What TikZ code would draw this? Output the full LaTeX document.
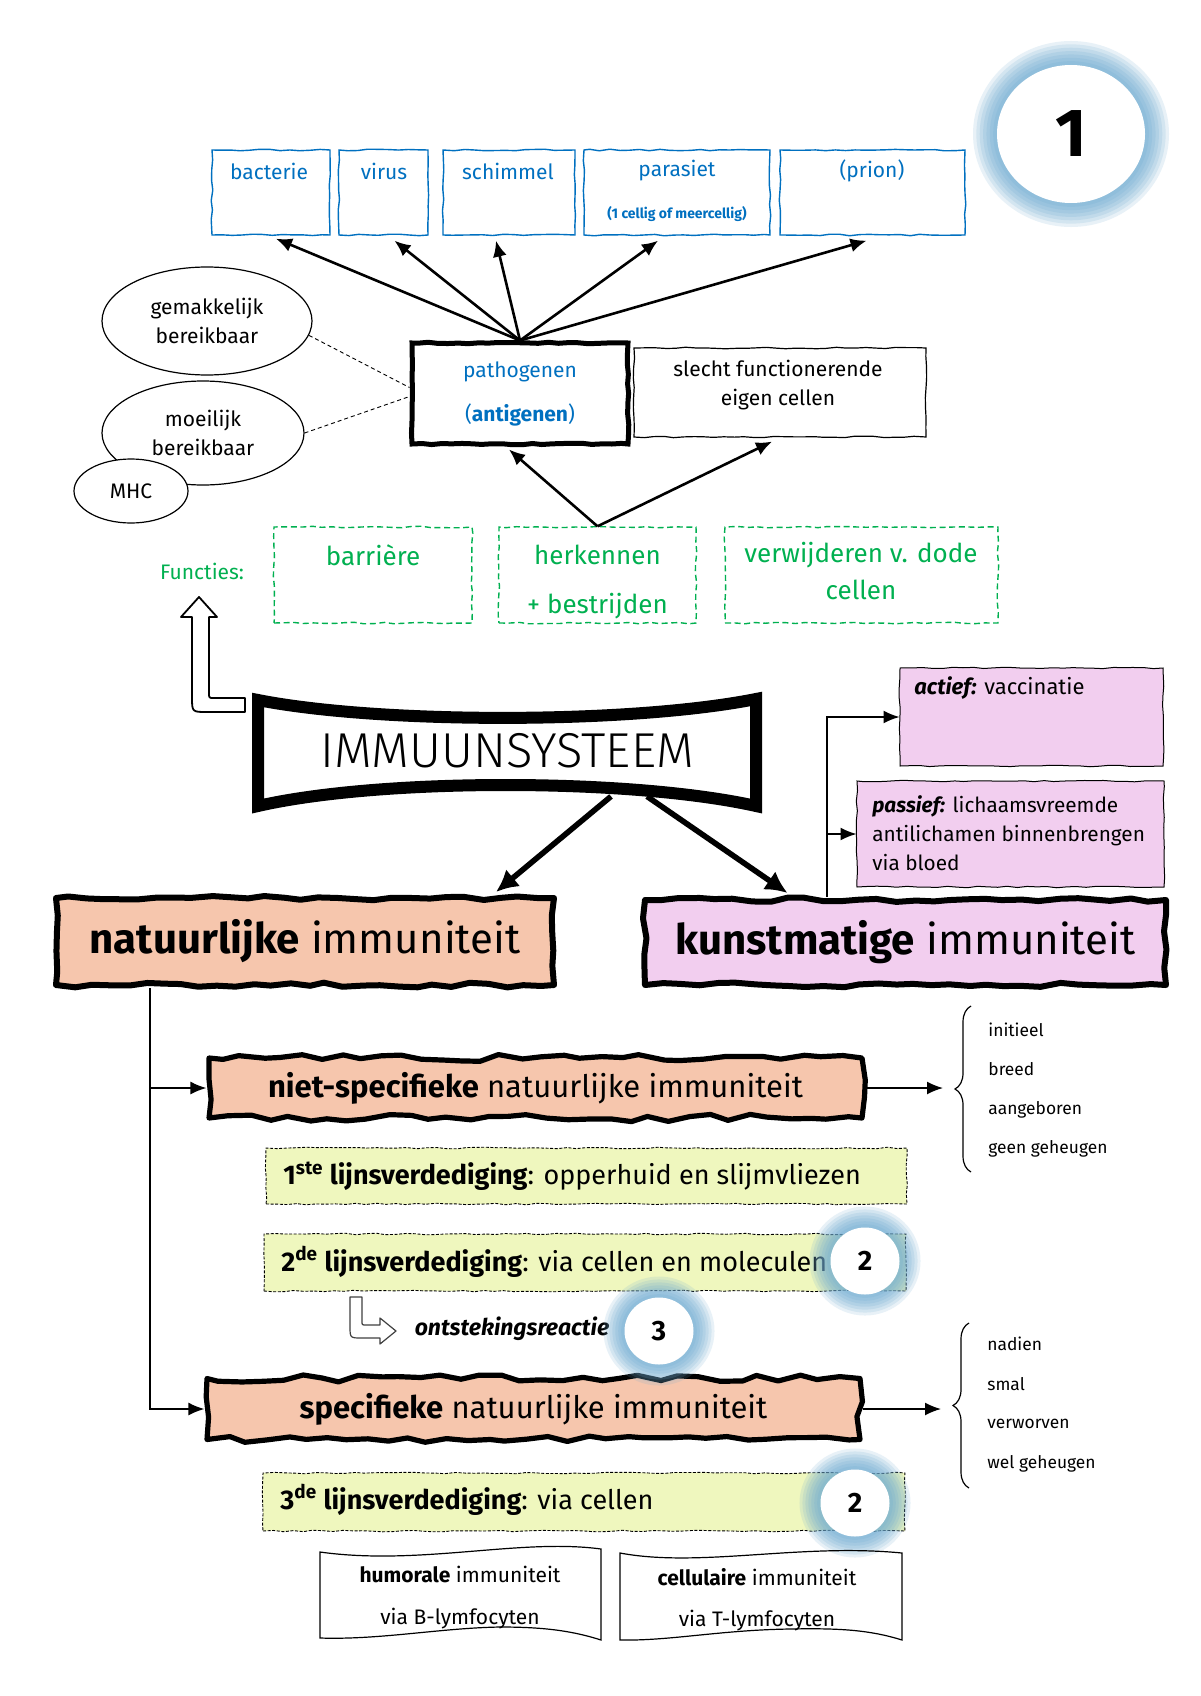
\documentclass[tikz,border=0pt]{standalone}
\usepackage{fontspec}
\setmainfont{Fira Sans}
\newfontfamily\firalight{Fira Sans Light}
\usetikzlibrary{arrows.meta,calc,decorations.pathmorphing,decorations.pathreplacing,shapes.geometric}
\newcommand{\fsz}[2]{\fontsize{#1}{#2}\selectfont}
\definecolor{pblue}{RGB}{0,112,192}
\definecolor{fgreen}{RGB}{0,176,80}
\definecolor{salmon}{RGB}{246,198,173}
\definecolor{pinkfill}{RGB}{242,206,239}
\definecolor{limefill}{RGB}{239,247,190}
\definecolor{glow}{RGB}{112,172,210}
\begin{document}
\pgfmathsetseed{7}
\begin{tikzpicture}[x=0.5pt,y=-0.5pt,
 wob/.style={decorate,decoration={random steps,segment length=5pt,amplitude=0.4pt}},
 wavy/.style={decorate,decoration={random steps,segment length=9pt,amplitude=1.2pt},line join=round},
 wavier/.style={decorate,decoration={random steps,segment length=10pt,amplitude=1.8pt},line join=round},
 bluebox/.style={draw=pblue,line width=0.7pt,wob,inner sep=0pt,minimum height=42.5pt},
 btxt/.style={text=pblue,inner sep=0pt,font=\fsz{10.5}{13}},
 thinbox/.style={draw=black,line width=0.6pt,wob,inner sep=0pt},
 greenbox/.style={draw=fgreen,line width=0.7pt,dash pattern=on 3pt off 1.8pt,wob,inner sep=0pt,minimum height=48pt},
 gtxt/.style={text=fgreen,inner sep=0pt,font=\fsz{13}{16}},
 ell/.style={ellipse,draw,line width=0.6pt,inner sep=0pt,fill=white,align=center,font=\fsz{10.5}{14.5}},
 bigbox/.style={draw=black,line width=3pt,wavy,inner sep=0pt},
 midbox/.style={draw=black,line width=2.6pt,wavier,inner sep=0pt,fill=salmon,font=\fsz{15.5}{18}},
 pinkbox/.style={draw=black,line width=0.5pt,fill=pinkfill,wob,inner sep=0pt},
 ybox/.style={fill=limefill,draw=black,line width=0.45pt,dash pattern=on 1.5pt off 0.8pt,wob,inner sep=0pt},
 ytxt/.style={inner sep=0pt,anchor=west,font=\fsz{13.5}{16}},
 conn/.style={line width=0.8pt,-{Latex[length=8pt,width=6.5pt]}},
 parrow/.style={line width=1.3pt,-{Latex[length=8pt,width=7pt]}},
 tarrow/.style={line width=2.8pt,-{Latex[length=11pt,width=11pt]}},
 glowing/.style={
   preaction={draw=glow,line width=#1,draw opacity=0.16},
   preaction={draw=glow,line width=0.86*#1,draw opacity=0.17},
   preaction={draw=glow,line width=0.72*#1,draw opacity=0.18},
   preaction={draw=glow,line width=0.58*#1,draw opacity=0.19},
   preaction={draw=glow,line width=0.44*#1,draw opacity=0.2},
   preaction={draw=glow,line width=0.3*#1,draw opacity=0.2},
   preaction={draw=glow,line width=0.16*#1,draw opacity=0.2}},
 numc/.style={ellipse,fill=white,inner sep=0pt,minimum width=34.5pt,minimum height=33.5pt,font=\bfseries\fsz{14}{16},glowing=21pt},
 numbig/.style={ellipse,fill=white,inner sep=0pt,minimum width=74pt,minimum height=69pt,font=\bfseries\fsz{34}{38},glowing=24pt},
 small/.style={inner sep=0pt,anchor=west,font=\fsz{8.7}{10}},
 hollow/.style={line width=0.9pt,fill=white,line join=round},
]
\useasboundingbox (0,0) rectangle (1200,1696);
\fill[white] (0,0) rectangle (1200,1696);

% ---- circle 1
\node[numbig] (n1) at (1071,134) {1};

% ---- pathogen boxes
\node[bluebox,minimum width=59pt] (bac) at (271,192.5) {};
\node[btxt] (bac-t) at (269,171) {bacterie};
\node[bluebox,minimum width=44.5pt] (vir) at (383.5,192.5) {};
\node[btxt] (vir-t) at (384,171) {virus};
\node[bluebox,minimum width=66pt] (sch) at (509,192.5) {};
\node[btxt] (sch-t) at (508,171) {schimmel};
\node[bluebox,minimum width=93pt] (par) at (677,192.5) {};
\node[btxt] (par-t) at (677,171) {parasiet};
\node[btxt,font=\bfseries\fsz{7}{8}] (par-s) at (677,214) {(1 cellig of meercellig)};
\node[bluebox,minimum width=92.5pt] (pri) at (872.5,192.5) {};
\node[btxt] (pri-t) at (872,171) {(prion)};

% ---- pathogenen and eigen cellen
\node[draw,line width=2.5pt,wob,inner sep=0pt,minimum width=108pt,minimum height=50.5pt,
      text=pblue,align=center,font=\fsz{10.5}{22}] (pat) at (520,393.5) {pathogenen\\(\textbf{antigenen})};
\node[thinbox,minimum width=146pt,minimum height=44.5pt] (sle) at (780,392.5) {};
\node[inner sep=0pt,align=center,font=\fsz{10.5}{14.5}] (sle-t) at (778,385) {slecht functionerende\\eigen cellen};

\draw[parrow] (pat.north) -- ($(bac.south)+(5,3)$);
\draw[parrow] (pat.north) -- ($(vir.south)+(11,5)$);
\draw[parrow] (pat.north) -- ($(sch.south)+(-13,5)$);
\draw[parrow] (pat.north) -- ($(par.south)+(-19,5)$);
\draw[parrow] (pat.north) -- ($(pri.south)+(-6,5)$);

% ---- ellipses
\node[ell,minimum width=105pt,minimum height=54pt] (gem) at (207,321) {gemakkelijk\\bereikbaar};
\node[ell,minimum width=101pt,minimum height=52pt] (moe) at (203,433) {moeilijk\\bereikbaar};
\node[ell,minimum width=57pt,minimum height=32pt] (mhc) at (131,491) {MHC};
\draw[line width=0.45pt,dash pattern=on 2pt off 1.5pt] (gem.-8) -- ($(pat.west)+(0,-6)$);
\draw[line width=0.45pt,dash pattern=on 2pt off 1.5pt] (moe.east) -- ($(pat.west)+(0,3)$);

% ---- functions
\node[text=fgreen,inner sep=0pt,font=\fsz{10.5}{12}] (fun) at (202,571) {Functies:};
\node[greenbox,minimum width=99pt] (bar) at (373,575) {};
\node[gtxt] (bar-t) at (373,555) {barrière};
\node[greenbox,minimum width=98.5pt] (her) at (597.5,575) {};
\node[gtxt] (her-t1) at (597.5,555) {herkennen};
\node[gtxt] (her-t2) at (597.5,606) {+ bestrijden};
\node[greenbox,minimum width=136.5pt] (ver) at (861.5,575) {};
\node[gtxt] (ver-t1) at (861,555) {verwijderen v. dode};
\node[gtxt] (ver-t2) at (861,590) {cellen};
\draw[parrow] (her.north) -- ($(pat.south)+(-11,3)$);
\draw[parrow] (her.north) -- ($(sle.south)+(-8,4)$);

% ---- hollow arrow up to functions
\draw[hollow] (245,698) -- (214,698) .. controls (209,698) .. (209,693) -- (209,617) -- (217,617)
  -- (199,597) -- (181,617) -- (192,617) -- (192,697) .. controls (192,712) .. (207,712) -- (245,712) -- cycle;

% ---- IMMUUNSYSTEEM banner
\draw[line width=6pt,fill=white,line join=miter] (258,700) .. controls (380,724) and (630,724) .. (756,699)
  -- (756,806) .. controls (630,778) and (380,778) .. (258,806) -- cycle;
\node[inner sep=0pt,minimum width=249pt,minimum height=53pt,font=\firalight\fsz{24.5}{28}] (imm) at (507,751) {IMMUUNSYSTEEM};

% ---- natural / artificial
\node[bigbox,fill=salmon,minimum width=249pt,minimum height=43.5pt,font=\fsz{21}{24}] (nat) at (305,941.5) {\textbf{natuurlijke} immuniteit};
\node[bigbox,fill=pinkfill,minimum width=260.5pt,minimum height=42.5pt,font=\fsz{21}{24}] (kun) at (905.5,942.5) {\textbf{kunstmatige} immuniteit};
\draw[tarrow] ($(imm.south)+(104,-8)$) -- ($(nat.north)+(191,-3)$);
\draw[tarrow] ($(imm.south)+(140,-8)$) -- ($(kun.north)+(-118,-4)$);

% ---- actief / passief
\node[pinkbox,minimum width=131.5pt,minimum height=49pt] (act) at (1031.5,717) {};
\node[inner sep=0pt,anchor=west,font=\fsz{11}{14}] (act-t) at (914,688) {\textbf{\textit{actief:}} vaccinatie};
\node[pinkbox,minimum width=153.5pt,minimum height=53pt] (pas) at (1010.5,834) {};
\node[inner sep=0pt,anchor=west,align=left,font=\fsz{10.4}{14.5}] (pas-t) at (872,833) {\textbf{\textit{passief:}} lichaamsvreemde\\antilichamen binnenbrengen\\via bloed};
\coordinate (kl) at ($(kun.north west)+(185,0)$);
\draw[conn] (kl) |- (act.west);
\draw[conn] (kl |- pas.west) -- (pas.west);

% ---- non-specific / specific
\node[midbox,minimum width=326.5pt,minimum height=30pt] (niet) at (535.5,1088) {\textbf{niet-specifieke} natuurlijke immuniteit};
\node[midbox,minimum width=326.5pt,minimum height=30.5pt] (spec) at (533.5,1409) {\textbf{specifieke} natuurlijke immuniteit};
\coordinate (nl) at ($(nat.south west)+(97,0)$);
\draw[conn] (nl) |- (niet.west);
\draw[conn] (nl) |- (spec.west);

% ---- lines of defence
\node[ybox,minimum width=320.5pt,minimum height=28pt] (y1) at (586.5,1176) {};
\node[ytxt] (y1-t) at (283,1176) {\textbf{1\textsuperscript{ste} lijnsverdediging}: opperhuid en slijmvliezen};
\node[ybox,minimum width=321pt,minimum height=28.5pt] (y2) at (585,1262.5) {};
\node[ytxt] (y2-t) at (281,1262) {\textbf{2\textsuperscript{de} lijnsverdediging}: via cellen en moleculen};
\node[ybox,minimum width=321pt,minimum height=29pt] (y3) at (584,1502) {};
\node[ytxt] (y3-t) at (280,1500) {\textbf{3\textsuperscript{de} lijnsverdediging}: via cellen};

% ---- inflammation
\draw[hollow,line width=0.6pt,draw=black!75] (350,1297) -- (350,1326) .. controls (350,1338) .. (362,1338) -- (380,1338)
  -- (380,1344) -- (396,1331) -- (380,1318) -- (380,1325) -- (366,1325) .. controls (362,1325) .. (362,1321) -- (362,1297) -- cycle;
\node[inner sep=0pt,font=\bfseries\itshape\fsz{11.5}{14}] (ont) at (512,1329) {ontstekingsreactie};

% ---- numbered circles
\node[numc] (c2a) at (865,1261) {2};
\node[numc] (c3) at (659,1331) {3};
\node[numc] (c2b) at (855,1503) {2};

% ---- braces
\draw[line width=0.6pt,decorate,decoration={brace,amplitude=8pt}] (971,1172) -- (971,1006);
\coordinate (b1) at (943,1088);
\draw[conn] (niet.east) -- (b1);
\node[small] (i1) at (988,1030) {initieel};
\node[small] (i2) at (988,1069) {breed};
\node[small] (i3) at (988,1110) {aangeboren};
\node[small] (i4) at (988,1149) {geen geheugen};

\draw[line width=0.6pt,decorate,decoration={brace,amplitude=8pt}] (969,1488) -- (969,1323);
\coordinate (b2) at (941,1409);
\draw[conn] (spec.east) -- (b2);
\node[small] (j1) at (987,1344) {nadien};
\node[small] (j2) at (987,1384) {smal};
\node[small] (j3) at (987,1424) {verworven};
\node[small] (j4) at (987,1464) {wel geheugen};

% ---- humoral / cellular
\draw[line width=0.6pt] (320,1552) .. controls (420,1566) and (520,1538) .. (601,1549) -- (601,1640)
  .. controls (570,1630) and (540,1627) .. (500,1627) .. controls (440,1628) and (380,1640) .. (320,1638) -- cycle;
\node[inner sep=0pt,font=\fsz{10.5}{12}] (hum-t1) at (460,1574) {\textbf{humorale} immuniteit};
\node[inner sep=0pt,font=\fsz{10.5}{12}] (hum-t2) at (460,1619) {via B-lymfocyten};
\draw[line width=0.6pt] (620,1553) .. controls (700,1568) and (800,1543) .. (902,1553) -- (902,1640)
  .. controls (870,1630) and (840,1628) .. (790,1629) .. controls (720,1630) and (670,1641) .. (620,1640) -- cycle;
\node[inner sep=0pt,font=\fsz{10.5}{12}] (cel-t1) at (757,1577) {\textbf{cellulaire} immuniteit};
\node[inner sep=0pt,font=\fsz{10.5}{12}] (cel-t2) at (757,1621) {via T-lymfocyten};
\end{tikzpicture}
\end{document}
